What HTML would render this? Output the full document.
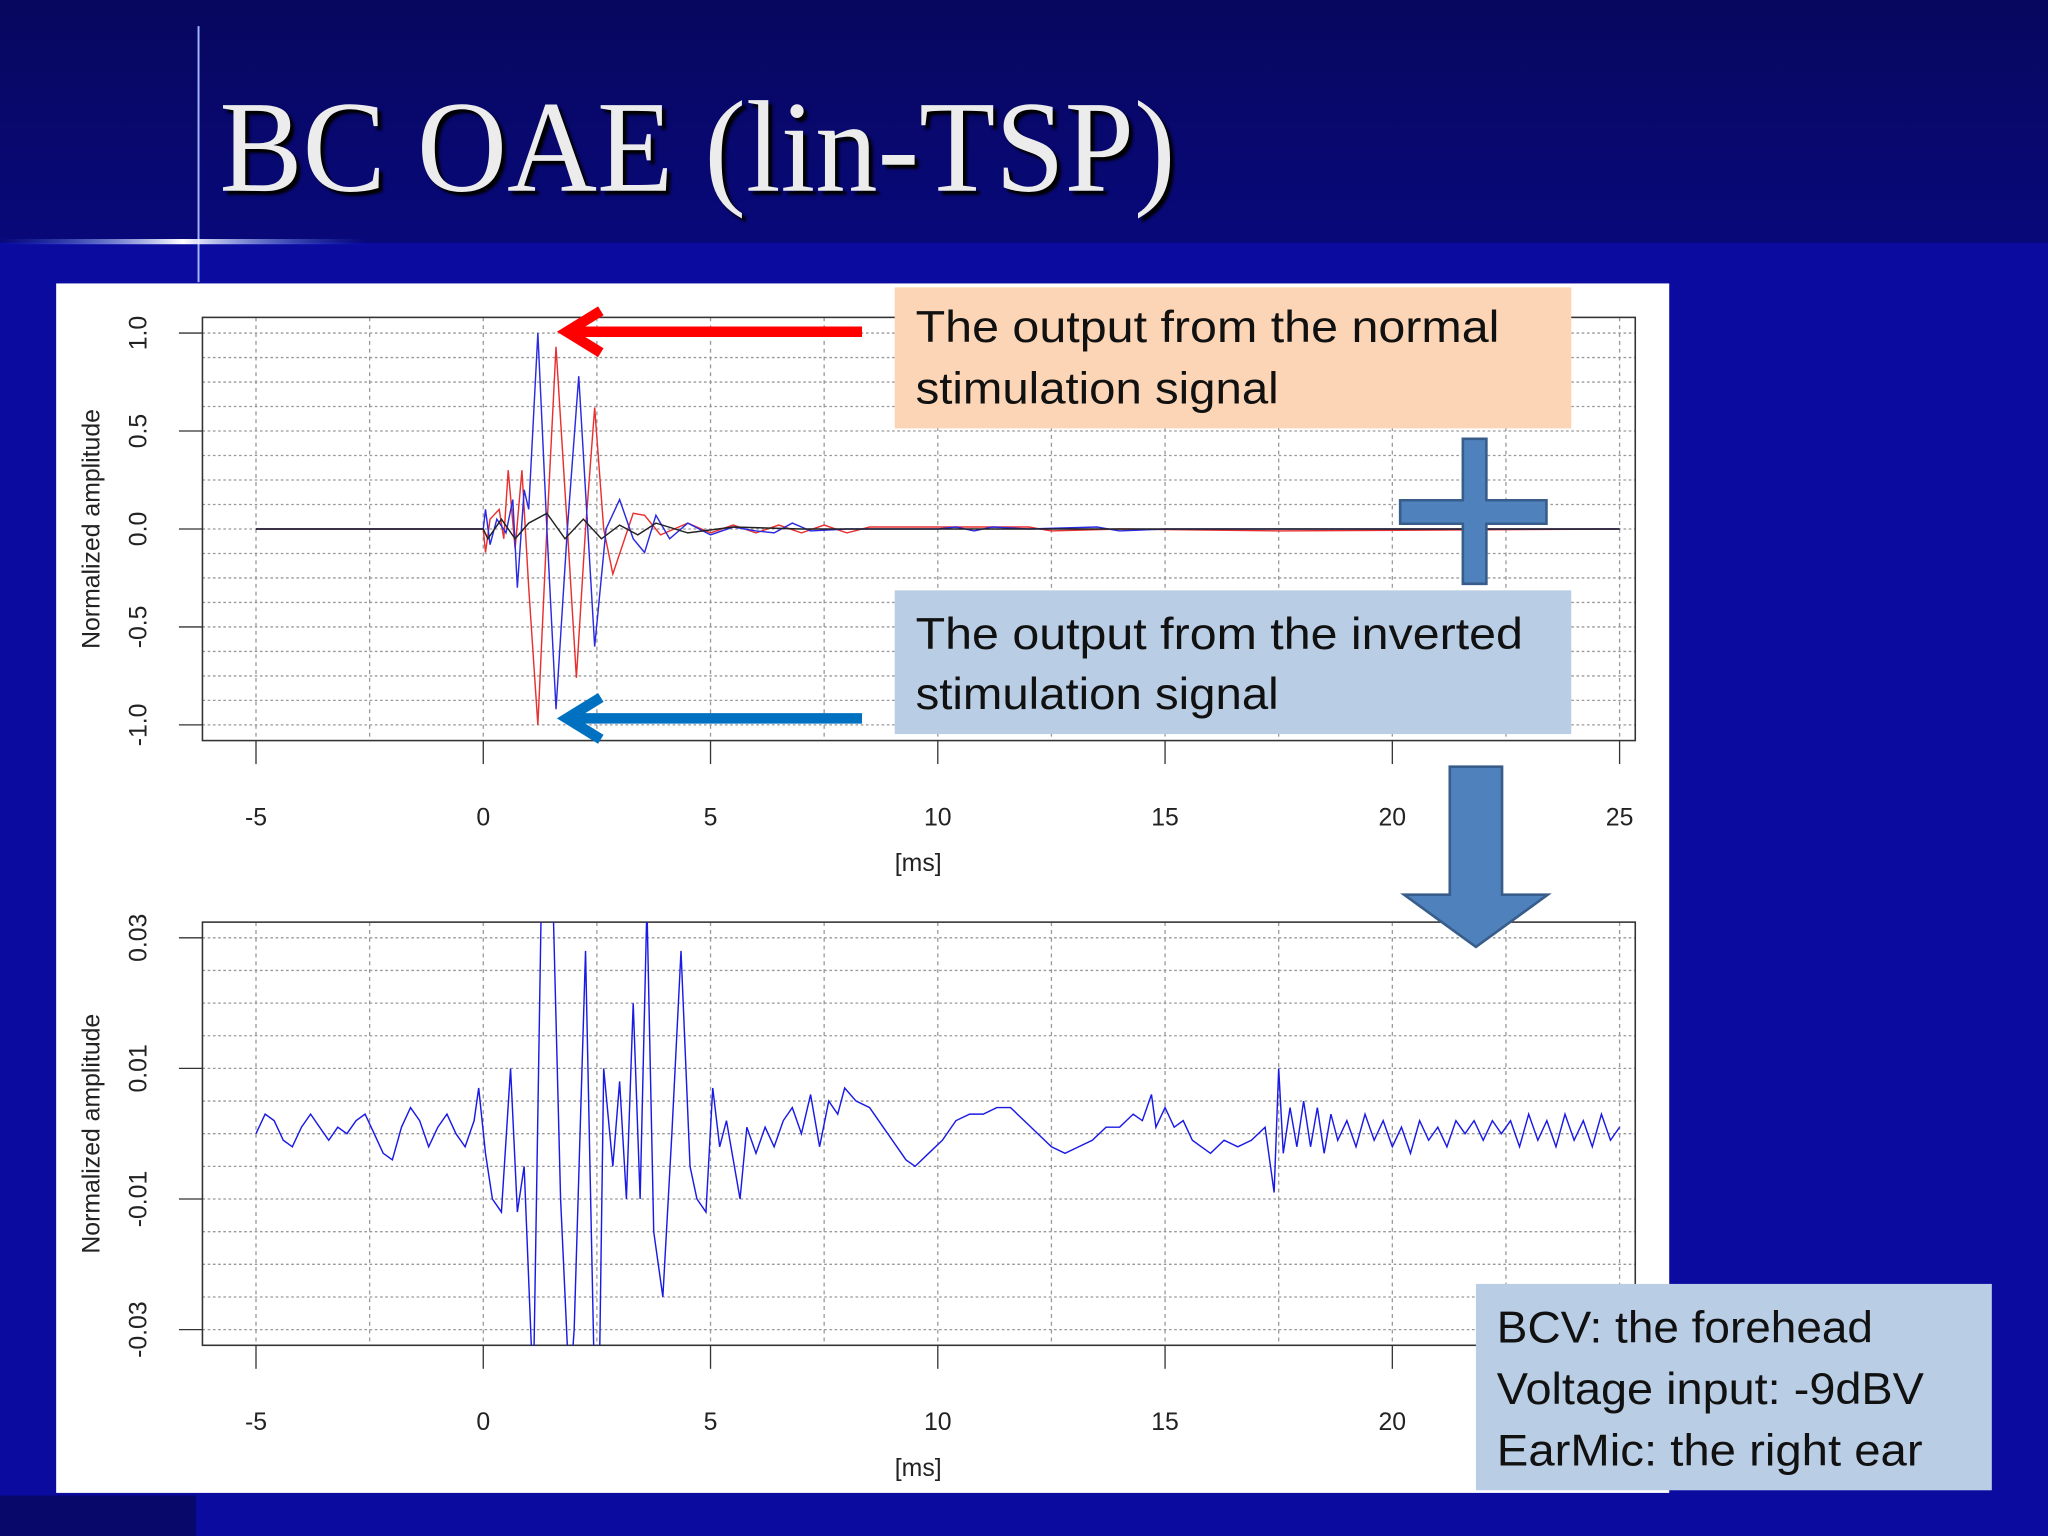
<!DOCTYPE html>
<html><head><meta charset="utf-8"><style>
html,body{margin:0;padding:0;width:2048px;height:1536px;overflow:hidden;background:#0a0a9c}
svg{display:block}
text{font-family:"Liberation Sans",sans-serif}
.cal{font-family:"Liberation Sans Narrow","Liberation Sans",sans-serif;fill:#111}
</style></head><body>
<svg id="s" width="2048" height="1536" viewBox="0 0 1568 1176" xmlns="http://www.w3.org/2000/svg">
<defs>
<linearGradient id="bg" x1="0" y1="0" x2="0" y2="1"><stop offset="0" stop-color="#07075f"/><stop offset="1" stop-color="#08087a"/></linearGradient>
<linearGradient id="glow" x1="0" y1="0" x2="1" y2="0"><stop offset="0" stop-color="#3a6cff" stop-opacity="0"/><stop offset="0.5" stop-color="#ffffff"/><stop offset="1" stop-color="#3a6cff" stop-opacity="0"/></linearGradient>
<clipPath id="c1"><rect x="155" y="243" width="1097" height="324"/></clipPath>
<clipPath id="c2"><rect x="155" y="706" width="1097" height="324"/></clipPath>
</defs>
<rect x="0" y="0" width="1568" height="1176" fill="#0b0ba0"/>
<rect x="0" y="0" width="1568" height="186" fill="url(#bg)"/>
<rect x="0" y="1145" width="150" height="31" fill="#08086a"/>
<line x1="152" y1="20" x2="152" y2="216" stroke="#9fb6ff" stroke-width="1.5"/>
<rect x="0" y="183" width="280" height="4" fill="url(#glow)"/>
<text x="168" y="146" font-family="Liberation Serif,serif" font-size="100" fill="#ececec" textLength="732" lengthAdjust="spacingAndGlyphs" style="font-family:'Liberation Serif',serif;filter:drop-shadow(3px 3px 1px #000)">BC OAE (lin-TSP)</text>
<rect x="43" y="217" width="1235" height="926" fill="#ffffff"/>
<g id="p1"></g>
<g id="p2"></g>

<rect x="685" y="220" width="518" height="108" fill="#fbd5b5"/>
<text class="cal" x="701" y="262" font-size="34" textLength="447" lengthAdjust="spacingAndGlyphs">The output from the normal</text>
<text class="cal" x="701" y="309" font-size="34" textLength="278" lengthAdjust="spacingAndGlyphs">stimulation signal</text>
<rect x="685" y="452" width="518" height="110" fill="#b9cde5"/>
<text class="cal" x="701" y="497" font-size="34" textLength="465" lengthAdjust="spacingAndGlyphs">The output from the inverted</text>
<text class="cal" x="701" y="543" font-size="34" textLength="278" lengthAdjust="spacingAndGlyphs">stimulation signal</text>

<g>
<line x1="660" y1="254" x2="436" y2="254" stroke="#ff0000" stroke-width="8"/>
<polyline points="460,238 434,254 460,270" fill="none" stroke="#ff0000" stroke-width="8"/>
</g>
<g>
<line x1="660" y1="550" x2="436" y2="550" stroke="#0070c0" stroke-width="8"/>
<polyline points="460,534 434,550 460,566" fill="none" stroke="#0070c0" stroke-width="8"/>
</g>
<path d="M1120,336 H1138 V383 H1184 V401 H1138 V447 H1120 V401 H1072 V383 H1120 Z" fill="#4f81bd" stroke="#385d8a" stroke-width="2"/>
<path d="M1110,587 H1150 V685 H1185 L1130,725 L1075,685 H1110 Z" fill="#4f81bd" stroke="#385d8a" stroke-width="2"/>

<rect x="1130" y="983" width="395" height="158" fill="#b9cde5"/>
<text class="cal" x="1146" y="1028" font-size="34" textLength="288" lengthAdjust="spacingAndGlyphs">BCV: the forehead</text>
<text class="cal" x="1146" y="1075" font-size="34" textLength="327" lengthAdjust="spacingAndGlyphs">Voltage input: -9dBV</text>
<text class="cal" x="1146" y="1122" font-size="34" textLength="326" lengthAdjust="spacingAndGlyphs">EarMic: the right ear</text>
</svg>
<script>
const xTicks=[-5,0,5,10,15,20,25];
const topYTicks=[1.0,0.5,0.0,-0.5,-1.0];
const topYLabels=["1.0","0.5","0.0","-0.5","-1.0"];
const botYTicks=[0.03,0.01,-0.01,-0.03];
const botYLabels=["0.03","0.01","-0.01","-0.03"];
const blueT=[-5,0,0.05,0.15,0.3,0.5,0.65,0.75,0.9,1.0,1.2,1.4,1.6,1.85,2.1,2.3,2.45,2.7,3.0,3.3,3.55,3.8,4.1,4.5,5,5.5,6.0,6.4,6.8,7.2,8,10,10.4,10.8,11.2,12,13.5,14,15,25];
const blueV=[0,0,0.1,-0.08,0.05,-0.02,0.15,-0.3,0.2,0.1,1.0,0.0,-0.92,0,0.78,0,-0.6,0,0.15,-0.05,-0.12,0.07,-0.05,0.03,-0.03,0.01,-0.01,-0.02,0.03,-0.01,0,0,0.01,-0.01,0.01,0,0.01,-0.01,0,0];
const redT=[-5,0,0.05,0.15,0.35,0.45,0.55,0.7,0.85,1.0,1.2,1.4,1.6,1.85,2.05,2.25,2.45,2.65,2.85,3.3,3.55,3.9,4.5,5,5.5,6,6.5,7,7.5,8,8.5,9.5,12,12.5,14,17.5,25];
const redV=[0,0,-0.12,0.05,0.1,-0.05,0.3,-0.1,0.3,-0.3,-1.0,0,0.93,0,-0.76,0,0.62,0,-0.23,0.08,0.07,-0.03,0.03,-0.02,0.02,-0.02,0.02,-0.02,0.02,-0.02,0.01,0.01,0.01,-0.01,0,-0.01,0];
const blackT=[-5,0,0.1,0.4,0.7,1.0,1.4,1.8,2.2,2.6,3.0,3.4,3.8,4.5,5.5,7,25];
const blackV=[0,0,-0.05,0.05,-0.05,0.03,0.08,-0.05,0.05,-0.05,0.02,-0.03,0.03,-0.02,0.01,0,0];
const diffT=[-5,-4.8,-4.6,-4.4,-4.2,-4.0,-3.8,-3.6,-3.4,-3.2,-3.0,-2.8,-2.6,-2.4,-2.2,-2.0,-1.8,-1.6,-1.4,-1.2,-1.0,-0.8,-0.6,-0.4,-0.2,-0.1,0.05,0.2,0.4,0.6,0.75,0.9,1.1,1.3,1.5,1.7,1.9,2.0,2.25,2.45,2.55,2.65,2.85,3.0,3.15,3.3,3.45,3.6,3.75,3.95,4.15,4.35,4.55,4.7,4.9,5.05,5.2,5.35,5.5,5.65,5.8,6.0,6.2,6.4,6.6,6.8,7.0,7.2,7.4,7.6,7.8,7.95,8.2,8.5,8.8,9.1,9.3,9.5,9.8,10.1,10.4,10.7,11.0,11.3,11.6,11.9,12.2,12.5,12.8,13.1,13.4,13.7,14.0,14.3,14.5,14.7,14.8,15.0,15.2,15.4,15.6,15.8,16.0,16.3,16.6,16.9,17.2,17.4,17.5,17.6,17.75,17.9,18.05,18.2,18.35,18.5,18.65,18.8,19.0,19.2,19.4,19.6,19.8,20.0,20.2,20.4,20.6,20.8,21.0,21.2,21.4,21.6,21.8,22.0,22.2,22.4,22.6,22.8,23.0,23.2,23.4,23.6,23.8,24.0,24.2,24.4,24.6,24.8,25.0];
const diffV=[0,3,2,-1,-2,1,3,1,-1,1,0,2,3,0,-3,-4,1,4,2,-2,1,3,0,-2,2,7,-3,-10,-12,10,-12,-5,-40,45,45,-10,-40,-30,28,-40,-40,10,-5,8,-10,20,-10,35,-15,-25,0,28,-5,-10,-12,7,-2,2,-4,-10,1,-3,1,-2,2,4,0,6,-2,5,3,7,5,4,1,-2,-4,-5,-3,-1,2,3,3,4,4,2,0,-2,-3,-2,-1,1,1,3,2,6,1,4,1,2,-1,-2,-3,-1,-2,-1,1,-9,10,-3,4,-2,5,-2,4,-3,3,-1,2,-2,3,-1,2,-2,1,-3,2,-1,1,-2,2,0,2,-1,2,0,2,-2,3,-1,2,-2,3,-1,2,-2,3,-1,1];

const NS='http://www.w3.org/2000/svg';
const X0=155,X1=1252;
const xs=t=>196+(t+5)*(1240-196)/30;
function mk(tag,attrs,parent){const e=document.createElementNS(NS,tag);for(const k in attrs)e.setAttribute(k,attrs[k]);parent.appendChild(e);return e;}

function drawPlot(g,top,bot,ys,yTicks,yLabels,gridStep,yMin,yMax,clip,series,prefix){
  // grid
  for(let t=-5;t<=25.01;t+=2.5){
    const l=mk('line',{x1:xs(t),x2:xs(t),y1:top,y2:bot,stroke:'#999','stroke-width':1,'stroke-dasharray':'3,3'},g);
    
    
  }
  for(let v=yMin;v<=yMax+1e-9;v+=gridStep){
    const l=mk('line',{x1:X0,x2:X1,y1:ys(v),y2:ys(v),stroke:'#999','stroke-width':1,'stroke-dasharray':'2,2'},g);
    
    
  }
  const box=mk('rect',{x:X0,y:top,width:X1-X0,height:bot-top,fill:'none',stroke:'#333','stroke-width':1.2},g);
  
  
  xTicks.forEach(t=>{
    const l=mk('line',{x1:xs(t),x2:xs(t),y1:bot,y2:bot+18,stroke:'#333','stroke-width':1},g);
    
    
    const tx=mk('text',{x:xs(t),y:bot+65,'text-anchor':'middle','font-size':19,fill:'#222'},g);
    tx.textContent=String(t);
    
    
  });
  const xl=mk('text',{x:703,y:bot+100,'text-anchor':'middle','font-size':19,fill:'#222'},g);
  xl.textContent='[ms]';
  
  
  yTicks.forEach((v,i)=>{
    const l=mk('line',{x1:X0-18,x2:X0,y1:ys(v),y2:ys(v),stroke:'#333','stroke-width':1},g);
    
    
    const tx=mk('text',{x:0,y:0,'text-anchor':'middle','font-size':19,fill:'#222',transform:`translate(112,${ys(v)}) rotate(-90)`},g);
    tx.textContent=yLabels[i];
    
    
  });
  const yl=mk('text',{x:0,y:0,'text-anchor':'middle','font-size':19,fill:'#222',transform:`translate(76,${(top+bot)/2}) rotate(-90)`},g);
  yl.textContent='Normalized amplitude';
  
  
  series.forEach(s=>{
    const pts=s.t.map((t,i)=>xs(t).toFixed(1)+','+ys(s.v[i]*s.k).toFixed(1)).join(' ');
    const p=mk('polyline',{points:pts,fill:'none',stroke:s.c,'stroke-width':1.1,'clip-path':`url(#${clip})`},g);
    
    
  });
}
const ys1=v=>405-v*150;
drawPlot(document.getElementById('p1'),243,567,ys1,topYTicks,topYLabels,0.125,-1.0,1.0,'c1',
 [{t:redT,v:redV,c:'#e83030',k:1,n:'normal-output-line'},{t:blueT,v:blueV,c:'#2a2ae0',k:1,n:'inverted-output-line'},{t:blackT,v:blackV,c:'#222',k:1,n:'sum-line'}],'top');
const ys2=v=>868-v*5000;
drawPlot(document.getElementById('p2'),706,1030,ys2,botYTicks,botYLabels,0.005,-0.03,0.03,'c2',
 [{t:diffT,v:diffV,c:'#1a1ae6',k:0.001,n:'oae-response-line'}],'bottom');
</script>
</body></html>
